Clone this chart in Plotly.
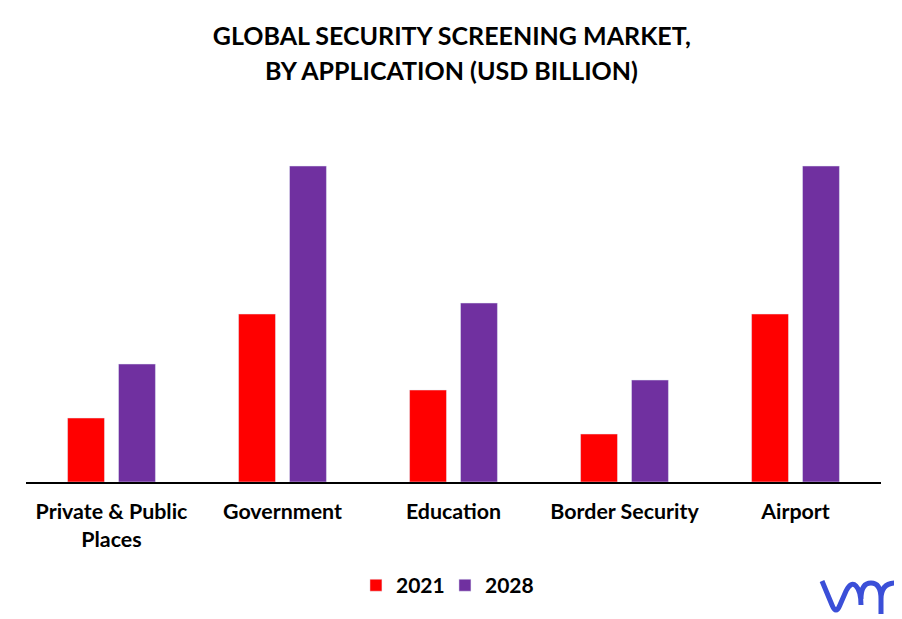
import plotly.graph_objects as go

categories = ['Private & Public<br>Places', 'Government', 'Education', 'Border Security', 'Airport']
values_2021 = [64, 168, 92, 48, 168]
values_2028 = [118, 316, 179, 102, 316]


def logo_pt(px, py):
    # page pixels to paper coords of the plot area
    return f'{(px - 26) / 855:.4f} {(483 - py) / 332:.4f}'


logo_path = (
    f'M {logo_pt(822, 582)} L {logo_pt(832, 606)} Q {logo_pt(836, 616)} {logo_pt(840, 606)} '
    f'L {logo_pt(846, 592)} Q {logo_pt(851, 582)} {logo_pt(856, 587)} Q {logo_pt(861, 592)} {logo_pt(861, 606)} '
    f'M {logo_pt(861, 600)} Q {logo_pt(861, 584)} {logo_pt(871, 584)} Q {logo_pt(881, 584)} {logo_pt(881, 600)} L {logo_pt(881, 615)} '
    f'M {logo_pt(881, 600)} Q {logo_pt(881, 584)} {logo_pt(896, 584)}'
)

fig = go.Figure()
fig.add_trace(go.Bar(x=categories, y=values_2021, name='2021', marker_color='#ff0000'))
fig.add_trace(go.Bar(x=categories, y=values_2028, name='2028', marker_color='#7030a0'))

title_font = dict(family='Lato', size=25, color='black', weight=700)

fig.update_layout(
    width=902,
    height=619,
    autosize=False,
    title=dict(
        text='GLOBAL SECURITY SCREENING MARKET,',
        x=0.498,
        xanchor='center',
        xref='paper',
        y=0.955,
        yanchor='middle',
        font=title_font,
    ),
    # second title line, wider line spacing than a <br> gives
    annotations=[dict(
        text='BY APPLICATION (USD BILLION)',
        xref='paper', yref='paper',
        x=0.498, y=1.241,
        xanchor='center', yanchor='middle',
        showarrow=False,
        font=title_font,
    )],
    font=dict(family='Lato', color='black'),
    plot_bgcolor='white',
    paper_bgcolor='white',
    barmode='group',
    bargap=0.404,
    bargroupgap=0.275,
    margin=dict(l=18, r=29, t=142, b=145),
    legend=dict(
        orientation='h',
        x=0.49,
        xanchor='center',
        y=-0.312,
        yanchor='middle',
        entrywidth=44,
        font=dict(size=21, weight=700),
    ),
    # logo, bottom right
    shapes=[dict(
        type='path',
        xref='paper', yref='paper',
        path=logo_path,
        line=dict(color='#3b4fd8', width=5),
    )],
)
fig.update_xaxes(
    showline=True, linecolor='black', linewidth=2, ticks='',
    ticklabelstandoff=9,
    tickfont=dict(size=21.4, color='black', weight=700),
)
fig.update_yaxes(visible=False, range=[0, 332])
fig.write_html("out.html")
